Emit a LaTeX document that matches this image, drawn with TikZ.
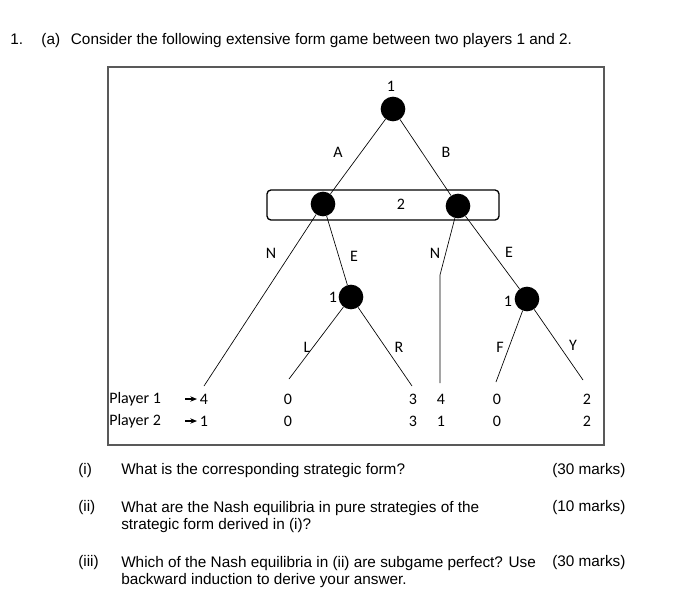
\documentclass[tikz,border=0pt]{standalone}
\usepackage{fontspec}
\setmainfont{Liberation Sans}
\newfontfamily\carlitofont{Carlito}
\usetikzlibrary{arrows.meta}
\begin{document}
\begin{tikzpicture}[x=0.75pt,y=-0.75pt,
  dot/.style={circle,fill=black,inner sep=0pt,minimum size=18.5pt},
  lab/.style={font=\carlitofont\fontsize{12}{14}\selectfont,inner sep=0pt},
  txt/.style={font=\fontsize{11.5}{13}\selectfont,inner sep=0pt,anchor=west,align=left},
  br/.style={line width=0.5pt}]
\useasboundingbox (0,0) rectangle (685,608);
\node[txt] (t0) at (10,41) {1.\hspace{1.2em}(a)\hspace{0.7em}Consider the following extensive form game between two players 1 and 2.};
\draw[line width=0.8pt,gray!70!black] (108,67) rectangle (604,445);
\draw[rounded corners=3pt,line width=1pt] (267,190) rectangle (499,220);
\node[dot] (r) at (393,109) {};
\node[dot] (a) at (323,204) {};
\node[dot] (b) at (458,206) {};
\node[dot] (c) at (351,297) {};
\node[dot] (d) at (527,299) {};
\coordinate (bn) at (440,275);
\coordinate (t1) at (204,386);
\coordinate (t2) at (289,379);
\coordinate (t3) at (412,386);
\coordinate (t4) at (440,383);
\coordinate (t5) at (496,382);
\coordinate (t6) at (583,380);
\draw[br] (r) -- (a); \draw[br] (r) -- (b);
\draw[br] (a) -- (t1); \draw[br] (a) -- (c);
\draw[br] (b) -- (bn) -- (t4); \draw[br] (b) -- (d);
\draw[br] (c) -- (t2); \draw[br] (c) -- (t3);
\draw[br] (d) -- (t5); \draw[br] (d) -- (t6);
\node[lab] (l1) at (391,86) {1};
\node[lab] (l2) at (401,204) {2};
\node[lab] (lA) at (338,152) {A};
\node[lab] (lB) at (446,152) {B};
\node[lab] (lN1) at (271,253) {N};
\node[lab] (lE1) at (354,256) {E};
\node[lab] (lN2) at (435,253) {N};
\node[lab] (lE2) at (509,252) {E};
\node[lab] (lc) at (333,297) {1};
\node[lab] (ld) at (508,301) {1};
\node[lab] (lL) at (307,347) {L};
\node[lab] (lR) at (399,347) {R};
\node[lab] (lF) at (500,347) {F};
\node[lab] (lY) at (573,345) {Y};
\node[lab,anchor=west] (p1) at (109,399) {Player 1};
\node[lab,anchor=west] (p2) at (109,421) {Player 2};
\coordinate (a1s) at (185,399); \coordinate (a1e) at (197,399);
\coordinate (a2s) at (185,421); \coordinate (a2e) at (197,421);
\draw[-{Stealth[length=5pt,width=4pt]},line width=0.8pt] (a1s) -- (a1e);
\draw[-{Stealth[length=5pt,width=4pt]},line width=0.8pt] (a2s) -- (a2e);
\foreach \x/\u/\v [count=\i] in {204/4/1,288/0/0,413/3/3,441/4/1,497/0/0,587/2/2}{
  \node[lab] (u\i) at (\x,399) {\u};
  \node[lab] (v\i) at (\x,421) {\v};}
\node[txt] (i1) at (78,471) {(i)};
\node[txt] (q1) at (121,471) {What is the corresponding strategic form?};
\node[txt] (m1) at (552,471) {(30 marks)};
\node[txt] (i2) at (78,508) {(ii)};
\node[txt,anchor=north west] (q2) at (121,501) {What are the Nash equilibria in pure strategies of the\\strategic form derived in (i)?};
\node[txt] (m2) at (552,508) {(10 marks)};
\node[txt] (i3) at (78,563) {(iii)};
\node[txt,anchor=north west] (q3) at (121,556) {Which of the Nash equilibria in (ii) are subgame perfect? Use\\backward induction to derive your answer.};
\node[txt] (m3) at (552,563) {(30 marks)};
\end{tikzpicture}
\end{document}
